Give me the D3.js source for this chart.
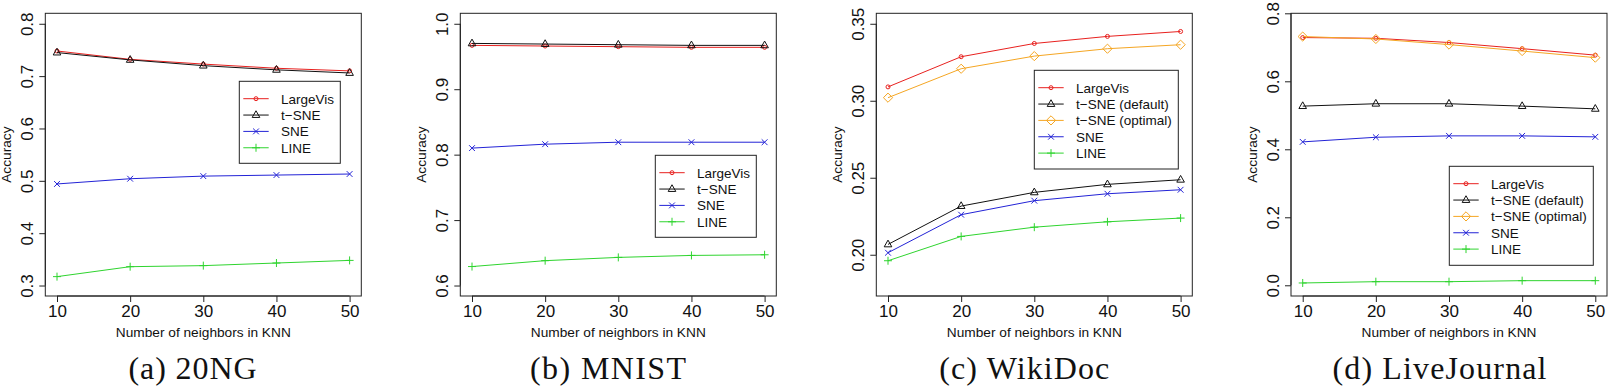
<!DOCTYPE html>
<html>
<head>
<meta charset="utf-8">
<script src="https://cdn.jsdelivr.net/npm/d3@7"></script>
<style>
  html, body { margin: 0; padding: 0; background: #fff; }
  svg { display: block; }
</style>
</head>
<body>
<svg id="chart" width="1609" height="386"></svg>
<script>
// ---------------- DATA ----------------
const neighbors = [10, 20, 30, 40, 50];
const xTicks = [10, 20, 30, 40, 50];

// (a) 20NG
const ngLargeVis = [0.748, 0.732, 0.723, 0.715, 0.710];
const ngTSNE     = [0.745, 0.731, 0.720, 0.712, 0.706];
const ngSNE      = [0.494, 0.504, 0.509, 0.511, 0.513];
const ngLINE     = [0.317, 0.336, 0.338, 0.343, 0.348];
const ngYTicks   = [0.3, 0.4, 0.5, 0.6, 0.7, 0.8];

// (b) MNIST
const mnLargeVis = [0.967, 0.966, 0.965, 0.964, 0.964];
const mnTSNE     = [0.970, 0.969, 0.968, 0.967, 0.967];
const mnSNE      = [0.810, 0.816, 0.819, 0.819, 0.819];
const mnLINE     = [0.629, 0.638, 0.643, 0.646, 0.647];
const mnYTicks   = [0.6, 0.7, 0.8, 0.9, 1.0];

// (c) WikiDoc
const wdLargeVis   = [0.309, 0.3286, 0.3372, 0.3418, 0.345];
const wdTSNEdef    = [0.2067, 0.2316, 0.2405, 0.2457, 0.2487];
const wdTSNEopt    = [0.302, 0.3208, 0.329, 0.3338, 0.3364];
const wdSNE        = [0.2013, 0.226, 0.2351, 0.2396, 0.2422];
const wdLINE       = [0.1961, 0.2119, 0.2179, 0.2214, 0.2238];
const wdYTicks     = [0.20, 0.25, 0.30, 0.35];

// (d) LiveJournal
const ljLargeVis   = [0.7286, 0.7265, 0.714, 0.696, 0.677];
const ljTSNEdef    = [0.527, 0.534, 0.534, 0.527, 0.519];
const ljTSNEopt    = [0.7316, 0.7245, 0.708, 0.689, 0.6696];
const ljSNE        = [0.4218, 0.4354, 0.4395, 0.4395, 0.4366];
const ljLINE       = [0.0068, 0.0106, 0.0106, 0.0136, 0.0136];
const ljYTicks     = [0.0, 0.2, 0.4, 0.6, 0.8];

const captions = ["(a) 20NG", "(b) MNIST", "(c) WikiDoc", "(d) LiveJournal"];
const xTitle = "Number of neighbors in KNN";
const yTitle = "Accuracy";

// ---------------- STYLES ----------------
const COL = { red: "#e8211f", black: "#111111", orange: "#f5a623", blue: "#2323d6", green: "#2fd42f" };
const STY = {
  "LargeVis":          { color: COL.red,    sym: "circle" },
  "t-SNE":             { color: COL.black,  sym: "triangle" },
  "t-SNE (default)":   { color: COL.black,  sym: "triangle" },
  "t-SNE (optimal)":   { color: COL.orange, sym: "diamond" },
  "SNE":               { color: COL.blue,   sym: "cross" },
  "LINE":              { color: COL.green,  sym: "plus" }
};

const panels = [
  { caption: captions[0], left: 45.3, yDomain: [0.28, 0.82], yTicks: ngYTicks, fmt: d3.format(".1f"),
    series: [["LargeVis", ngLargeVis], ["t-SNE", ngTSNE], ["SNE", ngSNE], ["LINE", ngLINE]],
    legend: { x: 239.3, y: 81.3, w: 101, h: 82 }, capX: 192.5, capW: 128 },
  { caption: captions[1], left: 460.3, yDomain: [0.584, 1.016], yTicks: mnYTicks, fmt: d3.format(".1f"),
    series: [["LargeVis", mnLargeVis], ["t-SNE", mnTSNE], ["SNE", mnSNE], ["LINE", mnLINE]],
    legend: { x: 655.3, y: 155.3, w: 101, h: 82 }, capX: 608, capW: 156 },
  { caption: captions[2], left: 876.3, yDomain: [0.1732, 0.3568], yTicks: wdYTicks, fmt: d3.format(".2f"),
    series: [["LargeVis", wdLargeVis], ["t-SNE (default)", wdTSNEdef], ["t-SNE (optimal)", wdTSNEopt], ["SNE", wdSNE], ["LINE", wdLINE]],
    legend: { x: 1034.3, y: 70.3, w: 144, h: 98.7 }, capX: 1024.3, capW: 170 },
  { caption: captions[3], left: 1291, yDomain: [-0.0315, 0.8], yTicks: ljYTicks, fmt: d3.format(".1f"),
    series: [["LargeVis", ljLargeVis], ["t-SNE (default)", ljTSNEdef], ["t-SNE (optimal)", ljTSNEopt], ["SNE", ljSNE], ["LINE", ljLINE]],
    legend: { x: 1449.3, y: 166.3, w: 144, h: 99 }, capX: 1439.5, capW: 214 }
];

const PW = 316, TOP = 13.3, BOTTOM = 296;
const SANS = "'Liberation Sans', Arial, Helvetica, sans-serif";
const SERIF = "'Liberation Serif', 'DejaVu Serif', serif";

function drawSymbol(g, sym, x, y, color) {
  if (sym === "circle") {
    g.append("circle").attr("cx", x).attr("cy", y).attr("r", 2)
      .attr("fill", "none").attr("stroke", color).attr("stroke-width", 1);
  } else if (sym === "triangle") {
    g.append("path").attr("d", `M${x},${y - 4.3}L${x + 3.8},${y + 2.4}L${x - 3.8},${y + 2.4}Z`)
      .attr("fill", "none").attr("stroke", color).attr("stroke-width", 1);
  } else if (sym === "diamond") {
    g.append("path").attr("d", `M${x},${y - 4.6}L${x + 4.6},${y}L${x},${y + 4.6}L${x - 4.6},${y}Z`)
      .attr("fill", "none").attr("stroke", color).attr("stroke-width", 1);
  } else if (sym === "cross") {
    g.append("path").attr("d", `M${x - 2.9},${y - 2.9}L${x + 2.9},${y + 2.9}M${x - 2.9},${y + 2.9}L${x + 2.9},${y - 2.9}`)
      .attr("fill", "none").attr("stroke", color).attr("stroke-width", 1);
  } else if (sym === "plus") {
    g.append("path").attr("d", `M${x - 4},${y}L${x + 4},${y}M${x},${y - 4}L${x},${y + 4}`)
      .attr("fill", "none").attr("stroke", color).attr("stroke-width", 1);
  }
}

const svg = d3.select("#chart");

panels.forEach(p => {
  const g = svg.append("g");
  const x = d3.scaleLinear().domain([8.4, 51.6]).range([p.left, p.left + PW]);
  const y = d3.scaleLinear().domain(p.yDomain).range([BOTTOM, TOP]);

  // axes
  const xAxis = d3.axisBottom(x).tickValues(xTicks).tickSize(6).tickPadding(4).tickFormat(d3.format("d"));
  const gx = g.append("g").attr("transform", `translate(0,${BOTTOM})`).call(xAxis);
  gx.select(".domain").attr("d", `M${x(10)},0H${x(50)}`).attr("stroke", "#222");
  gx.selectAll(".tick line").attr("stroke", "#222");
  gx.selectAll(".tick text").attr("font-family", SANS).attr("font-size", 17).attr("fill", "#111")
    .attr("y", 0).attr("dy", null).attr("transform", "translate(0,20.7)");

  const yAxis = d3.axisLeft(y).tickValues(p.yTicks).tickSize(6).tickFormat(p.fmt);
  const gy = g.append("g").attr("transform", `translate(${p.left},0)`).call(yAxis);
  gy.select(".domain").attr("d", `M0,${y(p.yTicks[0])}V${y(p.yTicks[p.yTicks.length - 1])}`).attr("stroke", "#222");
  gy.selectAll(".tick line").attr("stroke", "#222");
  gy.selectAll(".tick text").attr("font-family", SANS).attr("font-size", 17).attr("fill", "#111")
    .attr("x", 0).attr("dy", null).attr("text-anchor", "middle")
    .attr("transform", "translate(-12,0) rotate(-90)");

  // box
  g.append("rect").attr("x", p.left).attr("y", TOP).attr("width", PW).attr("height", BOTTOM - TOP)
    .attr("fill", "none").attr("stroke", "#222").attr("stroke-width", 1);

  // titles
  g.append("text").attr("x", p.left + PW / 2).attr("y", 337.3).attr("text-anchor", "middle")
    .attr("font-family", SANS).attr("font-size", 13.7).attr("fill", "#111").text(xTitle);
  g.append("text").attr("transform", `translate(${p.left - 34.3},${(TOP + BOTTOM) / 2}) rotate(-90)`)
    .attr("text-anchor", "middle").attr("font-family", SANS).attr("font-size", 13.7).attr("fill", "#111").text(yTitle);

  // caption
  g.append("text").attr("x", p.capX).attr("y", 378.5).attr("text-anchor", "middle")
    .attr("font-family", SERIF).attr("font-size", 32).attr("fill", "#111")
    .attr("textLength", p.capW).attr("lengthAdjust", "spacing").text(p.caption);

  // series
  const line = d3.line().x((d, i) => x(neighbors[i])).y(d => y(d));
  p.series.forEach(([name, vals]) => {
    const st = STY[name];
    g.append("path").datum(vals).attr("d", line).attr("fill", "none")
      .attr("stroke", st.color).attr("stroke-width", 1);
    vals.forEach((v, i) => drawSymbol(g, st.sym, x(neighbors[i]), y(v), st.color));
  });

  // legend
  const L = p.legend;
  const lg = g.append("g");
  lg.append("rect").attr("x", L.x).attr("y", L.y).attr("width", L.w).attr("height", L.h)
    .attr("fill", "#fff").attr("stroke", "#222").attr("stroke-width", 1);
  p.series.forEach(([name], i) => {
    const st = STY[name];
    const ry = L.y + 17.4 + i * 16.35;
    lg.append("line").attr("x1", L.x + 4).attr("x2", L.x + 29.4).attr("y1", ry).attr("y2", ry)
      .attr("stroke", st.color).attr("stroke-width", 1);
    drawSymbol(lg, st.sym, L.x + 16.7, ry, st.color);
    lg.append("text").attr("x", L.x + 41.7).attr("y", ry + 5).attr("font-family", SANS)
      .attr("font-size", 13.5).attr("fill", "#111").text(name.replace("t-SNE", "t\u2212SNE"));
  });
});
</script>
</body>
</html>
